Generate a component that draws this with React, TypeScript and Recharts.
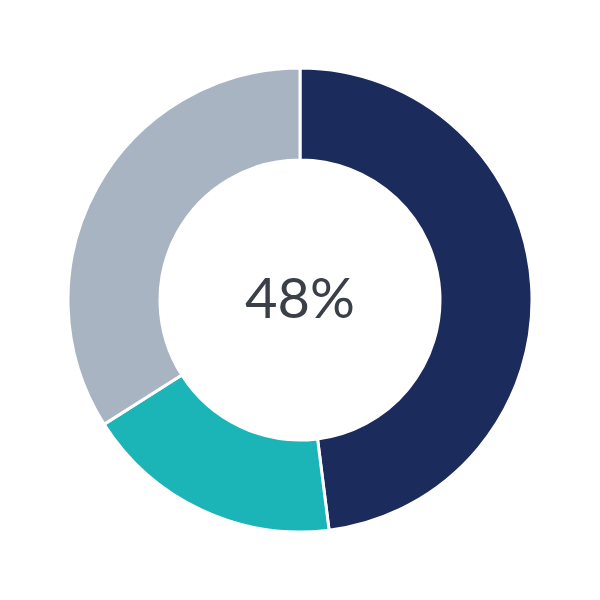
import React from "react";
import { PieChart, Pie, Cell } from "recharts";

const categories = ["A", "B", "C"];
const values = [48, 18, 34];
const colors = ["#1b2b5c", "#1bb4b7", "#a9b4c2"];
const centerLabel = "48%";

const data = categories.map((name, i) => ({ name, value: values[i] }));

export default function App() {
  return (
    <div style={{ position: "fixed", left: 0, top: 0, width: 600, height: 600, background: "#ffffff" }}>
      <PieChart width={600} height={600} margin={{ top: 0, right: 0, bottom: 0, left: 0 }}>
        <Pie
          data={data}
          dataKey="value"
          cx={300}
          cy={300}
          innerRadius={140}
          outerRadius={232}
          startAngle={90}
          endAngle={-270}
          stroke="#ffffff"
          strokeWidth={3}
          isAnimationActive={false}
        >
          {data.map((d, i) => (
            <Cell key={d.name} fill={colors[i]} />
          ))}
        </Pie>
        <text
          x={300}
          y={296}
          textAnchor="middle"
          dominantBaseline="central"
          fontFamily="Lato, 'Open Sans', sans-serif"
          fontWeight={400}
          fontSize={56}
          fill="#3a3f48"
        >
          {centerLabel}
        </text>
      </PieChart>
    </div>
  );
}
